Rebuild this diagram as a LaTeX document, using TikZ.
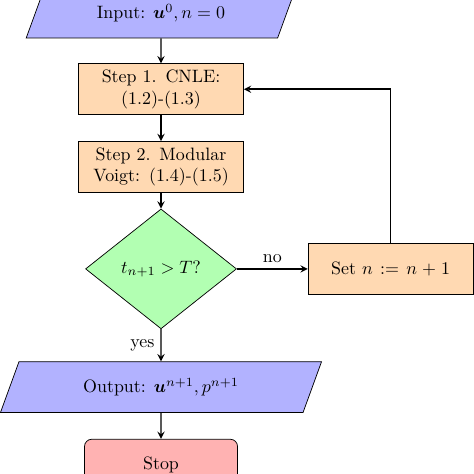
\documentclass[tikz,border=0pt]{standalone}
\usepackage{amsmath}
\usetikzlibrary{shapes.geometric,arrows,positioning}

\tikzstyle{startstop} = [rectangle, rounded corners, minimum width=3cm, minimum height=1cm, text centered, draw=black, fill=red!30]
\tikzstyle{io} = [trapezium, trapezium left angle=70, trapezium right angle=110, minimum height=0.98cm, text centered, draw=black, fill=blue!30]
\tikzstyle{process} = [rectangle, minimum width=3.23cm, minimum height=1cm, text width=3cm, text centered, draw=black, fill=orange!30]
\tikzstyle{decision} = [diamond, minimum width=2.96cm, minimum height=2.35cm, inner sep=0pt, text centered, draw=black, fill=green!30]
\tikzstyle{arrow} = [thick,->,>=stealth]

\begin{document}
\begin{tikzpicture}
\useasboundingbox (0,0) rectangle (9.294,-9.294);

\node (in1) [io, minimum width=5.27cm] at (3.157,-0.255) {Input: $\boldsymbol{u}^0, n=0$};
\node (pro1) [process, below=0.49cm of in1] {Step 1. CNLE: (1.2)-(1.3)};
\node (pro2) [process, below=0.51cm of pro1] {Step 2. Modular Voigt: (1.4)-(1.5)};
\node (dec1) [decision, below=0.31cm of pro2] {$t_{n+1} > T$?};
\node (pro3) [process, right=1.39cm of dec1] {Set $n := n+1$};
\node (out1) [io, minimum width=6.3cm, below=0.63cm of dec1] {Output: $\boldsymbol{u}^{n+1}, p^{n+1}$};
\node (stop) [startstop, below=0.51cm of out1] {Stop};

\draw [arrow] (in1) -- (pro1);
\draw [arrow] (pro1) -- (pro2);
\draw [arrow] (pro2) -- (dec1);
\draw [arrow] (dec1) -- node[anchor=east] {yes} (out1);
\draw [arrow] (dec1) -- node[anchor=south] {no} (pro3);
\draw [arrow] (pro3) |- (pro1);
\draw [arrow] (out1) -- (stop);

\end{tikzpicture}
\end{document}
